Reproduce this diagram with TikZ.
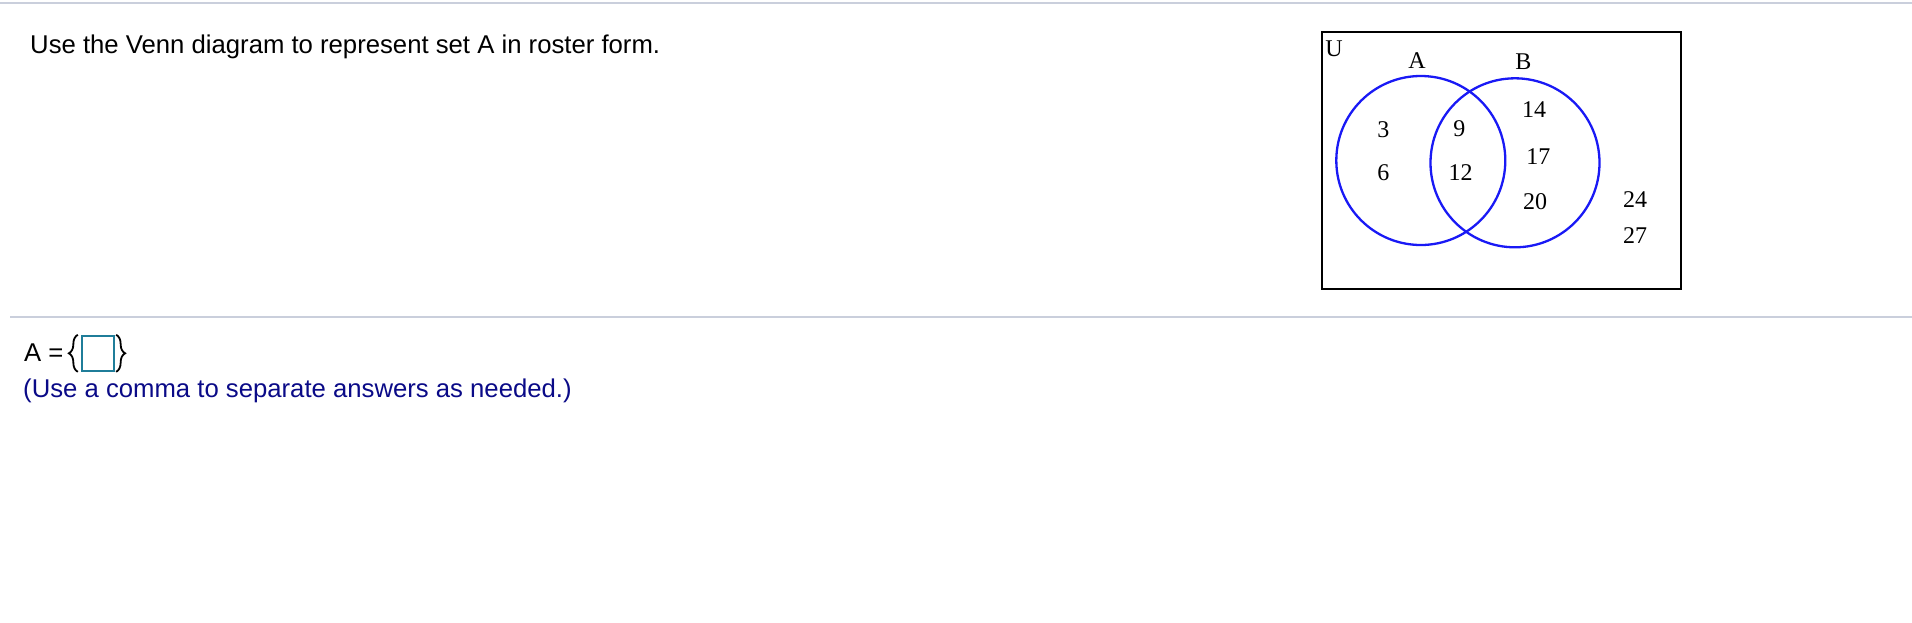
\documentclass[tikz,border=0pt]{standalone}
\usepackage{fontspec}
\setmainfont{Liberation Sans}
\newfontfamily\vennfont{Liberation Serif}
\usepackage{tikz}
\usetikzlibrary{decorations.pathreplacing}
\definecolor{rulegray}{RGB}{202,207,220}
\definecolor{hintblue}{RGB}{10,10,135}
\definecolor{fieldteal}{RGB}{31,125,153}
\definecolor{setblue}{RGB}{25,25,245}

\begin{document}
\begin{tikzpicture}[x=1pt,y=-1pt,
  qtext/.style={inner sep=0pt, anchor=base west, font=\fontsize{25.7}{30}\selectfont},
  num/.style={inner sep=0pt, font=\vennfont\fontsize{24}{28}\selectfont},
  setcirc/.style={circle, draw=setblue, line width=2.3pt, minimum size=169pt, inner sep=0pt},
  brc/.style={decorate, decoration={brace, amplitude=9pt}, line width=1.8pt}]
  \useasboundingbox (0,0) rectangle (1912,622);
  \coordinate (r1a) at (0,3);
  \coordinate (r1b) at (1912,3);
  \coordinate (r2a) at (10,316.5);
  \coordinate (r2b) at (1912,316.5);
  \draw[rulegray, line width=2pt] (r1a) -- (r1b) (r2a) -- (r2b);
  \node[qtext] (task) at (30,53) {Use the Venn diagram to represent set A in roster form.};
  \node[draw=black, line width=2.3pt, minimum width=359pt, minimum height=257.3pt, inner sep=0pt] (univ) at (1501.2,160.4) {};
  \node[num] (lu) at (1334,48.3) {U};
  \node[num] (la) at (1417,61) {A};
  \node[num] (lb) at (1523.3,61.7) {B};
  \node[setcirc] (seta) at (1420.8,160.5) {};
  \node[setcirc] (setb) at (1515,162.8) {};
  \node[num] (n3) at (1383.3,130) {3};
  \node[num] (n6) at (1383.3,172.7) {6};
  \node[num] (n9) at (1459.3,128.3) {9};
  \node[num] (n12) at (1460.7,172.7) {12};
  \node[num] (n14) at (1534,110) {14};
  \node[num] (n17) at (1538.3,156.7) {17};
  \node[num] (n20) at (1535,201.7) {20};
  \node[num] (n24) at (1635,200) {24};
  \node[num] (n27) at (1635,236) {27};
  \node[qtext] (aeq) at (24,361) {A =};
  \node[draw=fieldteal, line width=1.8pt, minimum width=32.5pt, minimum height=35.2pt, inner sep=0pt] (ans) at (98,353.3) {};
  \draw[brc] ([xshift=-3pt]ans.south west) -- ([xshift=-3pt]ans.north west);
  \draw[brc] ([xshift=1pt]ans.north east) -- ([xshift=1pt]ans.south east);
  \node[qtext, text=hintblue] (hint) at (23,397) {(Use a comma to separate answers as needed.)};
\end{tikzpicture}
\end{document}
